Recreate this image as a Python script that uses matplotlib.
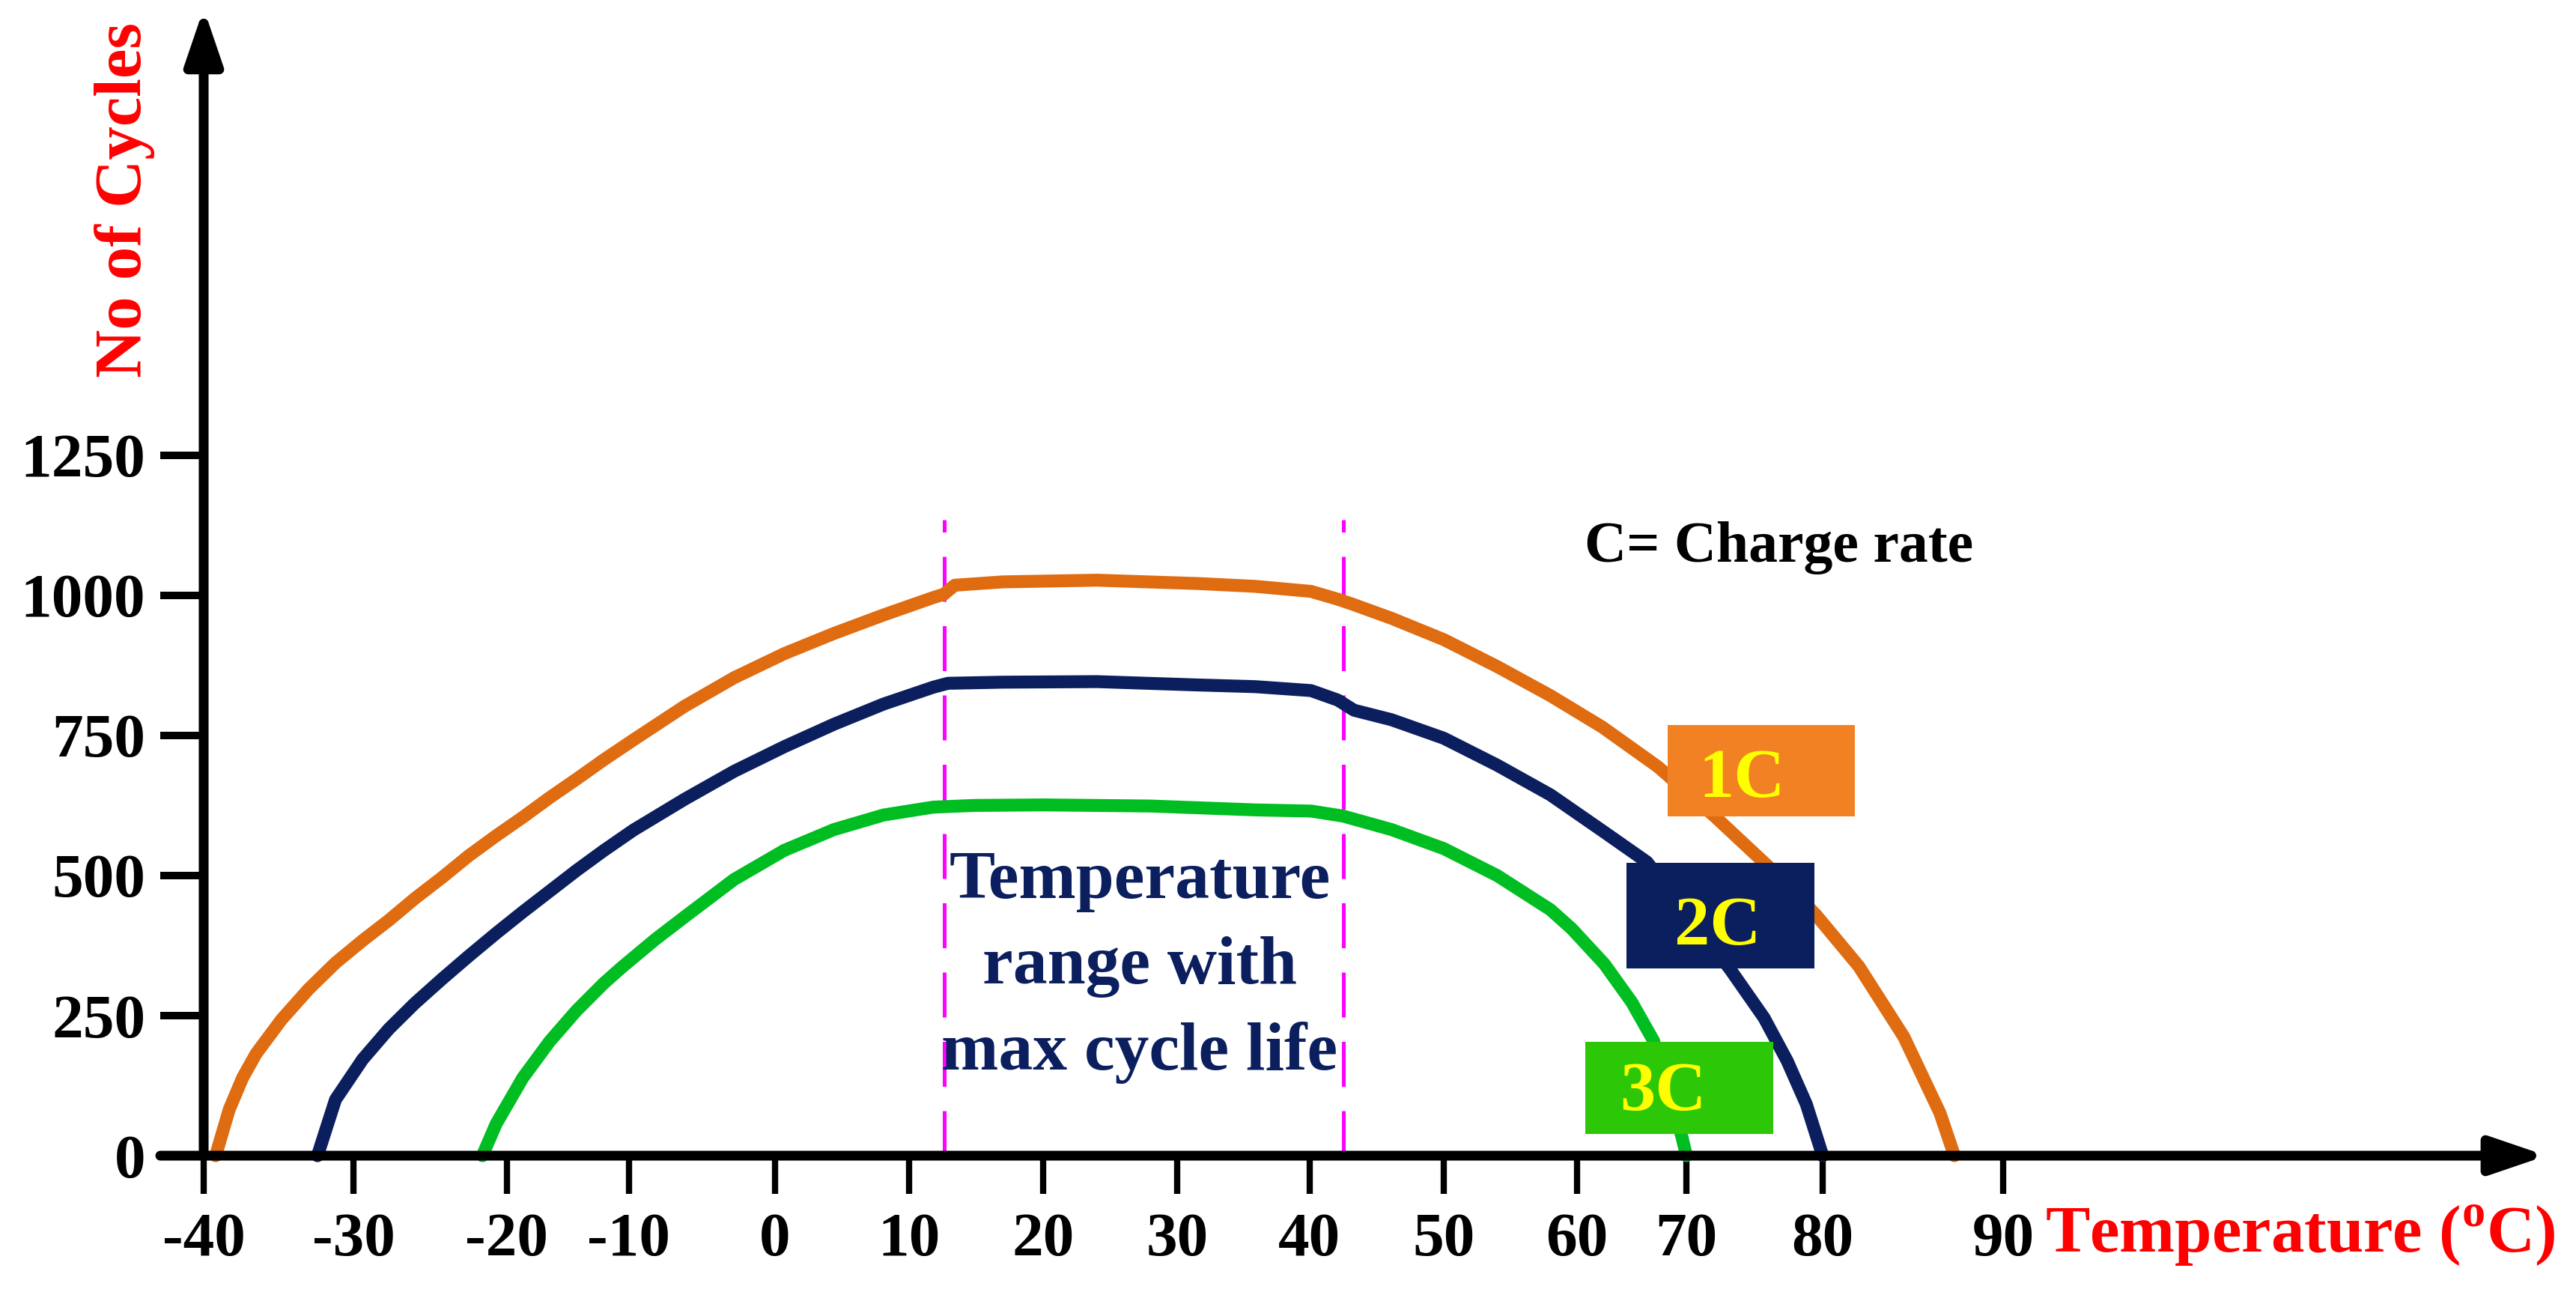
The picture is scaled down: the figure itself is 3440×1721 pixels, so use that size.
import numpy as np
import matplotlib as mpl
import matplotlib.pyplot as plt
from matplotlib.patches import Rectangle

# cycle life vs temperature for three charge rates
temp_1c = [-39.2, -38.3, -37.4, -36.5, -34.8, -33.0, -31.2, -29.4, -27.7, -26.0,
           -24.2, -22.5, -20.7, -18.7, -16.5, -14.3, -12.1, -9.7, -6.2, -2.8,
           0.7, 4.4, 8.1, 11.8, 12.6, 13.4, 17.0, 24.0, 31.6, 35.9,
           40.1, 42.1, 43.1, 46.1, 50.0, 54.0, 58.0, 62.3, 67.4, 72.1,
           76.5, 79.5, 82.0, 84.5, 86.5, 87.3]
cycles_1c = [0, 82, 139, 182, 243, 297, 344, 384, 420, 459,
             497, 535, 571, 604, 639, 672, 706, 742, 802, 853,
             896, 932, 965, 996, 1002, 1018, 1024, 1027, 1021, 1016,
             1007, 993, 985, 959, 921, 873, 821, 765, 694, 605,
             505, 430, 338, 212, 76, 0]

temp_2c = [-32.4, -31.2, -29.4, -27.7, -26.0, -24.2, -22.5, -20.7, -18.7, -16.5,
           -14.3, -12.1, -9.7, -6.2, -2.8, 0.7, 4.4, 8.1, 11.8, 12.9,
           17.0, 24.0, 31.6, 35.9, 40.1, 42.1, 43.3, 46.1, 50.0, 54.0,
           58.0, 62.3, 66.4, 73.2, 75.7, 77.4, 78.8, 80.0]
cycles_2c = [0, 100, 172, 226, 272, 316, 356, 397, 435, 472,
             509, 544, 581, 636, 686, 730, 770, 806, 836, 843,
             845, 846, 840, 837, 830, 813, 795, 778, 745, 697,
             644, 580, 524, 333, 246, 169, 92, 0]

temp_3c = [-21.6, -20.7, -18.7, -16.5, -14.3, -12.1, -10.6, -8.2, -6.2, -2.8,
           0.7, 4.4, 8.1, 11.8, 14.8, 20.0, 28.0, 36.0, 40.1, 42.5,
           46.1, 50.0, 54.0, 58.0, 59.6, 62.5, 65.0, 67.0, 69.6, 70.0]
cycles_3c = [0, 57, 139, 204, 259, 307, 336, 386, 426, 493,
             545, 582, 608, 622, 625, 626, 624, 617, 615, 606,
             582, 548, 500, 439, 405, 342, 274, 205, 33, 0]

x_ticks = [-40, -30, -20, -10, 0, 10, 20, 30, 40, 50, 60, 70, 80, 90]
y_ticks = [0, 250, 500, 750, 1000, 1250]
max_life_range = [12.6, 42.5]
rate_labels = ['1C', '2C', '3C']

ORANGE, ORANGE_BOX = '#E06C12', '#F28123'
NAVY = '#0B1F5E'
GREEN, GREEN_BOX = '#00BE22', '#2CC707'
MAGENTA, YELLOW = '#FF00FF', '#FFFF00'

mpl.rcParams.update({
    'font.family': 'Liberation Serif',
    'font.weight': 'bold',
    'axes.labelweight': 'bold',
    'mathtext.fontset': 'custom',
    'mathtext.rm': 'Liberation Serif:bold',
    'mathtext.bf': 'Liberation Serif:bold',
})

# the drawn temperature axis has uneven tick spacing, follow it with a
# piecewise-linear scale (positions in output pixels)
tick_px = [272, 472, 677, 840, 1035, 1214, 1393, 1572, 1749, 1928, 2106, 2252, 2434, 2675]
_xp = [-100] + x_ticks + [200]
_fp = [tick_px[0] - 60 * 20.0] + tick_px + [tick_px[-1] + 110 * 17.9]


def temp_to_px(t):
    return np.interp(t, _xp, _fp)


def px_to_temp(p):
    return np.interp(p, _fp, _xp)


W, H, DPI = 3441, 1721, 200
fig = plt.figure(figsize=(W / DPI, H / DPI), dpi=DPI)
ax = fig.add_axes([272 / W, 178 / H, 3116 / W, 1521 / H])
ax.set_xscale('function', functions=(temp_to_px, px_to_temp))
ax.set_xlim(-40, float(px_to_temp(3388)))
ax.set_ylim(0, 2033)
for s in ax.spines.values():
    s.set_visible(False)

# max cycle life window
ax.vlines(max_life_range, 0, 1135, colors=MAGENTA, lw=1.8,
          linestyles=(0, (12, 6.5)), zorder=2)

for t, c, col in [(temp_1c, cycles_1c, ORANGE),
                  (temp_2c, cycles_2c, NAVY),
                  (temp_3c, cycles_3c, GREEN)]:
    ax.plot(t, c, color=col, lw=6.2, solid_capstyle='round',
            solid_joinstyle='round', clip_on=False, zorder=3)

# axis arrows
arrow = dict(arrowstyle='-|>,head_length=2.2,head_width=0.75', mutation_scale=10,
             lw=4.7, color='black', shrinkA=0, shrinkB=0)
ax.annotate('', xy=(1.004, 0), xytext=(-0.0186, 0), xycoords='axes fraction',
            arrowprops=arrow, annotation_clip=False, zorder=4)
ax.annotate('', xy=(0, 1.007), xytext=(0, 0), xycoords='axes fraction',
            arrowprops=arrow, annotation_clip=False, zorder=4)

ax.set_xticks(x_ticks)
ax.set_xticklabels([str(v) for v in x_ticks])
ax.set_yticks(y_ticks)
ax.set_yticklabels([str(v) for v in y_ticks])
ax.minorticks_off()
ax.tick_params(axis='x', length=18.5, width=3, pad=9, labelsize=30)
ax.tick_params(axis='y', length=21, width=3.6, pad=7, labelsize=30)

ax.set_ylabel('No of Cycles', color='red', fontsize=32, va='center')
ax.yaxis.set_label_coords(-0.0337, 0.839)
ax.set_xlabel(r'Temperature ($^{\mathrm{o}}$C)', color='red', fontsize=32,
              ha='left', va='center')
ax.xaxis.set_label_coords(0.789, -0.0703)

ax.text(27.2, 336, 'Temperature\nrange with\nmax cycle life', color=NAVY,
        fontsize=33, ha='center', va='center', multialignment='center',
        linespacing=1.5, zorder=5)
ax.text(76.8, 1060, 'C= Charge rate', color='black', fontsize=28,
        ha='center', va='baseline')

# rate tags
boxes = [(68.3, 81.8, 606, 769, ORANGE_BOX, 74.1, 640),
         (64.5, 79.4, 334, 523, NAVY, 72.3, 377),
         (60.75, 76.4, 39, 203, GREEN_BOX, 67.9, 82)]
for label, (x0, x1, y0, y1, col, tx, ty) in zip(rate_labels, boxes):
    ax.add_patch(Rectangle((x0, y0), x1 - x0, y1 - y0, facecolor=col,
                           edgecolor='none', zorder=5))
    ax.text(tx, ty, label, color=YELLOW, fontsize=34, ha='center',
            va='baseline', zorder=6)

fig.savefig('out.png', dpi=DPI, facecolor='white')
